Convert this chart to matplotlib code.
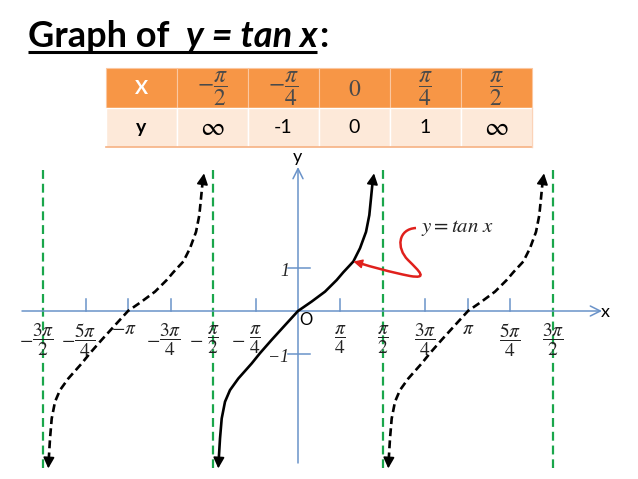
import numpy as np
import matplotlib
matplotlib.use('Agg')
import matplotlib.pyplot as plt
from matplotlib.path import Path
from matplotlib.patches import PathPatch, Rectangle

plt.rcParams['mathtext.fontset'] = 'stix'
SANS = ['Lato', 'DejaVu Sans']

# ---------------- data ----------------
title_plain = "Graph of"
title_math = "y = tan x"
table_row_x_label = "X"
table_row_y_label = "y"
table_x_values = [r'-\dfrac{\pi}{\mathit{2}}', r'-\dfrac{\pi}{\mathit{4}}', r'\mathit{0}',
                  r'\dfrac{\pi}{\mathit{4}}', r'\dfrac{\pi}{\mathit{2}}']
table_y_values = [r'$\infty$', '-1', '0', '1', r'$\infty$']

x_tick_quarters = [-6, -5, -4, -3, -2, -1, 1, 2, 3, 4, 5, 6]     # multiples of pi/4
x_tick_labels = [r'-\dfrac{\mathit{3}\pi}{\mathit{2}}', r'-\dfrac{\mathit{5}\pi}{\mathit{4}}', r'-\pi',
                 r'-\dfrac{\mathit{3}\pi}{\mathit{4}}', r'-\dfrac{\pi}{\mathit{2}}', r'-\dfrac{\pi}{\mathit{4}}',
                 r'\dfrac{\pi}{\mathit{4}}', r'\dfrac{\pi}{\mathit{2}}', r'\dfrac{\mathit{3}\pi}{\mathit{4}}',
                 r'\pi', r'\dfrac{\mathit{5}\pi}{\mathit{4}}', r'\dfrac{\mathit{3}\pi}{\mathit{2}}']
x_tick_marks = [-5, -4, -3, -1, 1, 3, 4, 5]                       # multiples of pi/4
y_tick_values = [1, -1]
y_tick_labels = ['1', '\u22121']

asymptote_halfpis = [-3, -1, 1, 3]          # x = k*pi/2
branch_centers_pi = [-1, 0, 1]              # branches centred at k*pi
branch_styles = ['dashed', 'solid', 'dashed']
# one branch of the drawn curve (x in rad from branch centre)
branch_x = [-1.473, -1.460, -1.441, -1.410, -1.349, -1.257, -1.103, -0.856, -0.702, -0.486,
            -0.240, 0.0, 0.253, 0.499, 0.715, 0.837, 1.022, 1.146, 1.257, 1.318, 1.349,
            1.373, 1.405]
branch_y = [-3.66, -3.35, -2.96, -2.50, -2.11, -1.84, -1.57, -1.22, -0.98, -0.67,
            -0.33, 0.0, 0.22, 0.45, 0.72, 0.90, 1.15, 1.46, 1.84, 2.23, 2.62,
            2.93, 3.20]
annot_text = r'$y = tan\ x$'
annot_index = 16

# ---------------- layout helpers ----------------
W, H = 638, 479
X0, Y0, PX, PY = 298.0, 311.0, 54.11, 43.0
def d(px, py):
    return ((px - X0) / PX, (Y0 - py) / PY)

fig = plt.figure(figsize=(W / 100, H / 100), dpi=100)
ax = fig.add_axes([0, 0, 1, 1])
ax.set_xlim(d(0, 0)[0], d(W, 0)[0])
ax.set_ylim(d(0, H)[1], d(0, 0)[1])
ax.axis('off')

ov = fig.add_axes([0, 0, 1, 1], zorder=5)
ov.set_xlim(0, W)
ov.set_ylim(H, 0)
ov.axis('off')

AXC = '#6a93c9'
GREEN = '#1aa64b'
RED = '#e0201c'
TXT = '#222222'

# axes with arrows
ax.annotate('', xy=d(602, Y0), xytext=d(22, Y0),
            arrowprops=dict(arrowstyle='->,head_length=0.6,head_width=0.3', color=AXC, lw=1.1,
                            shrinkA=0, shrinkB=0, mutation_scale=12))
ax.annotate('', xy=d(X0, 167), xytext=d(X0, 463),
            arrowprops=dict(arrowstyle='->,head_length=0.6,head_width=0.3', color=AXC, lw=1.1,
                            shrinkA=0, shrinkB=0, mutation_scale=12))

# tick marks
tick_h = 12 / PY
for q in x_tick_marks:
    xv = q * np.pi / 4
    ax.plot([xv, xv], [0, tick_h], color=AXC, lw=1.1)
for yv in y_tick_values:
    ax.plot([-10 / PX, 12 / PX], [yv, yv], color=AXC, lw=1.1)

# asymptotes
for k in asymptote_halfpis:
    xv = k * np.pi / 2
    ax.plot([xv, xv], [d(0, 170)[1], d(0, 468)[1]], color=GREEN, lw=1.6,
            linestyle=(0, (4, 2.2)), zorder=2)

# tan branches
bx = np.array(branch_x)
by = np.array(branch_y)
head = '-|>,head_length=0.55,head_width=0.28'

def base_point(xa, ya, xb, yb, px_len=8.0):
    # point px_len pixels back from (xb,yb) towards (xa,ya)
    dxp, dyp = (xb - xa) * PX, (yb - ya) * PY
    L = np.hypot(dxp, dyp)
    f = px_len / L
    return xb - (xb - xa) * f, yb - (yb - ya) * f

for c, st in zip(branch_centers_pi, branch_styles):
    xs = bx + c * np.pi
    ys = by.copy()
    b0 = base_point(xs[1], ys[1], xs[0], ys[0])
    b1 = base_point(xs[-2], ys[-2], xs[-1], ys[-1])
    lx = np.concatenate([[b0[0]], xs[1:-1], [b1[0]]])
    ly = np.concatenate([[b0[1]], ys[1:-1], [b1[1]]])
    ls = '-' if st == 'solid' else (0, (3, 1.6))
    ax.plot(lx, ly, color='black', lw=1.9, linestyle=ls, zorder=3, solid_joinstyle='round')
    for (bxp, byp), (tx, ty) in ((b0, (xs[0], ys[0])), (b1, (xs[-1], ys[-1]))):
        ax.annotate('', xy=(tx, ty), xytext=(bxp, byp),
                    arrowprops=dict(arrowstyle=head, color='black', lw=1.2,
                                    shrinkA=0, shrinkB=0, mutation_scale=12), zorder=4)

# x tick labels
for q, lab in zip(x_tick_quarters, x_tick_labels):
    xv = q * np.pi / 4
    if 'frac' in lab:
        body = lab.lstrip('-')
        ax.text(xv, d(0, 340)[1], '$' + body + '$', ha='center', va='center',
                fontsize=14, color=TXT)
        if lab.startswith('-'):
            ax.text(xv - 17 / PX, d(0, 339)[1], r'$-$', ha='center', va='center',
                    fontsize=14, color=TXT)
    else:
        off = -4 / PX if lab.startswith('-') else 0
        ax.text(xv + off, d(0, 329)[1], '$' + lab + '$', ha='center', va='center',
                fontsize=14, color=TXT)

# y tick labels
for yv, lab in zip(y_tick_values, y_tick_labels):
    ax.text(-9 / PX, yv - 4 / PY, lab, ha='right', va='center', fontsize=13,
            family='Liberation Serif', style='italic', color=TXT)

# axis names
ov.text(X0 - 1, 157, 'y', ha='center', va='center', fontsize=13, family=SANS)
ov.text(605, 312, 'x', ha='center', va='center', fontsize=13, family=SANS)
ov.text(306, 320, 'O', ha='center', va='center', fontsize=12, family=SANS)

# annotation
ov.text(421, 228, annot_text, ha='left', va='center', fontsize=15, color=TXT)
tip = ax.transData.transform((bx[annot_index], by[annot_index]))
tip_px = ov.transData.inverted().transform(tip)
verts = [(416, 228), (398, 229), (396, 248), (408, 260),
         (420, 272), (428, 279), (410, 276),
         (390, 272), (372, 267), (tip_px[0] + 6, tip_px[1] + 1.5)]
codes = [Path.MOVETO] + [Path.CURVE4] * 9
ov.add_patch(PathPatch(Path(verts, codes), fill=False, edgecolor=RED, lw=1.8))
ov.annotate('', xy=tuple(tip_px), xytext=(tip_px[0] + 7, tip_px[1] + 1.8),
            arrowprops=dict(arrowstyle='-|>,head_length=0.5,head_width=0.25', color=RED,
                            lw=1.0, shrinkA=0, shrinkB=0, mutation_scale=11))

# table
tx0, tw, ty0, th1, th2 = 106, 71, 68, 40, 39
ncol = 1 + len(table_x_values)
for i in range(ncol):
    ov.add_patch(Rectangle((tx0 + i * tw, ty0), tw, th1, facecolor='#F79646',
                           edgecolor='#fbc7a0', lw=0.8))
    ov.add_patch(Rectangle((tx0 + i * tw, ty0 + th1), tw, th2, facecolor='#FDE9D9',
                           edgecolor='white', lw=1.0))
ov.plot([tx0, tx0 + ncol * tw], [ty0 + th1 + th2, ty0 + th1 + th2], color='#f6b183', lw=1.2)
ov.plot([tx0 + ncol * tw, tx0 + ncol * tw], [ty0 + th1, ty0 + th1 + th2], color='#fbd3b8', lw=1.0)
ymid1 = ty0 + th1 / 2
ymid2 = ty0 + th1 + th2 / 2
ov.text(tx0 + tw / 2, ymid1, table_row_x_label, ha='center', va='center', color='white',
        fontsize=14, fontweight='bold', family=SANS)
ov.text(tx0 + tw / 2, ymid2, table_row_y_label, ha='center', va='center', color='black',
        fontsize=14, fontweight='bold', family=SANS)
for i, (xl, yl) in enumerate(zip(table_x_values, table_y_values)):
    cx = tx0 + (i + 1.5) * tw
    ov.text(cx, ymid1 + 1, '$' + xl + '$', ha='center', va='center', color='#4a4a4a', fontsize=17)
    if yl.startswith('$'):
        ov.text(cx, ymid2, yl, ha='center', va='center', color='black', fontsize=19)
    else:
        ov.text(cx, ymid2, yl, ha='center', va='center', color='black', fontsize=14, family=SANS)

# title
renderer = fig.canvas.get_renderer()
tfs = 26
t1 = ov.text(28, 47, title_plain, ha='left', va='baseline', fontsize=tfs,
             fontweight='bold', family=SANS)
b1 = t1.get_window_extent(renderer)
x1 = ov.transData.inverted().transform((b1.x1, 0))[0]
t2 = ov.text(x1 + 16, 47, title_math, ha='left', va='baseline', fontsize=tfs,
             fontweight='bold', style='italic', family=SANS)
b2 = t2.get_window_extent(renderer)
x2 = ov.transData.inverted().transform((b2.x1, 0))[0]
ov.text(x2 + 2, 47, ':', ha='left', va='baseline', fontsize=tfs, fontweight='bold', family=SANS)
ov.plot([28, x2], [51.5, 51.5], color='black', lw=2.2, solid_capstyle='butt')

fig.savefig('out.png', dpi=100)
